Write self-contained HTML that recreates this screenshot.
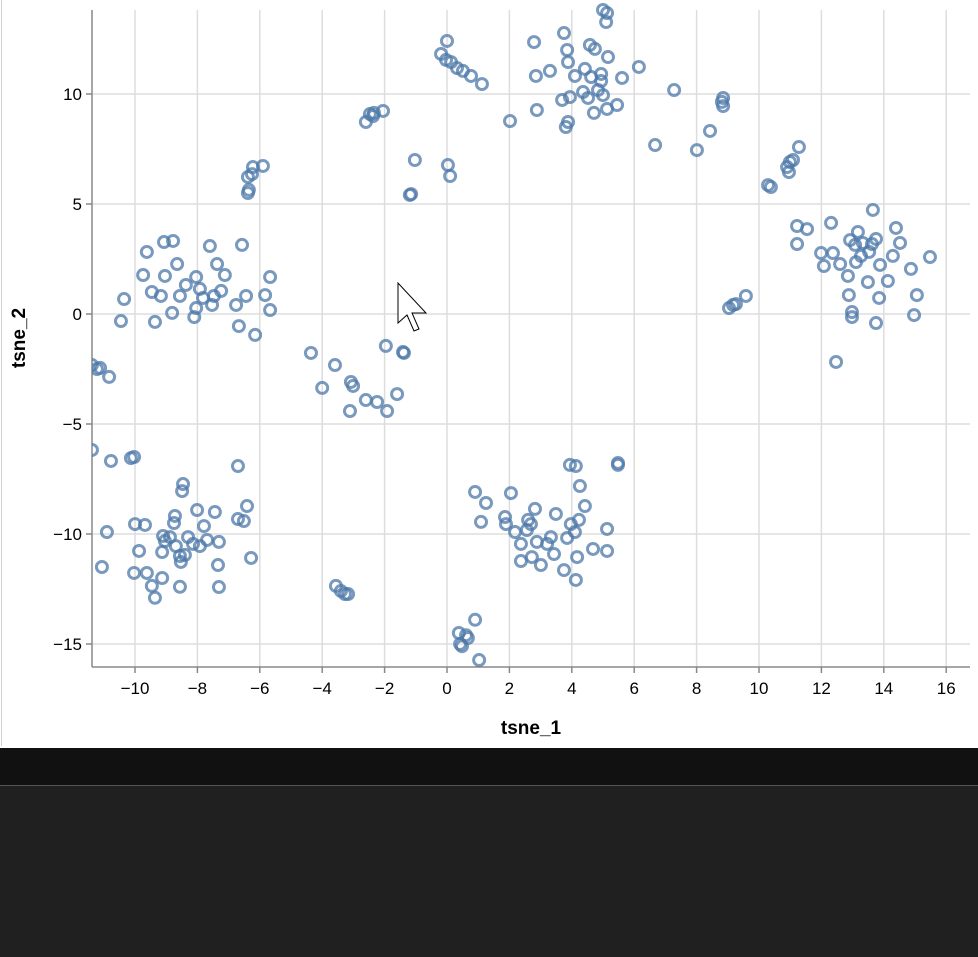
<!DOCTYPE html>
<html><head><meta charset="utf-8"><style>
html,body{margin:0;padding:0;background:#fff;}
body{width:978px;height:956px;overflow:hidden;position:relative;font-family:"Liberation Sans",sans-serif;}
#bar1{position:absolute;left:0;top:748px;width:978px;height:37px;background:#111;}
#bar2{position:absolute;left:0;top:785px;width:978px;height:171px;background:#202020;border-top:1px solid #555;}
#edge{position:absolute;left:1px;top:0;width:1px;height:746px;background:#d0d0d0;}
</style></head><body>
<div id="edge"></div>
<svg id="chart" width="978" height="748" style="position:absolute;left:0;top:0"></svg>
<div id="bar1"></div>
<div id="bar2"></div>
<script>
const xs=[-9.62,-9.07,-8.78,-8.65,-9.04,-9.74,-9.46,-9.17,-9.36,-8.81,-8.56,-8.37,-8.04,-7.92,-7.82,-8.04,-8.1,-7.6,-7.37,-7.12,-7.47,-7.24,-7.53,-6.76,-6.44,-6.57,-6.67,-6.15,-5.83,-5.67,-5.67,-10.35,-10.45,
-6.38,-6.38,-6.22,-5.9,-6.25,-6.35,
-11.38,-11.22,-11.12,-10.83,-11.38,-10.77,-10.13,-10.03,
-10.9,-10.0,-9.68,-11.06,-9.87,-10.03,-9.62,-9.46,-9.36,-9.13,-9.13,-9.1,-9.04,-8.72,-8.75,-8.69,-8.56,-8.53,-8.56,-8.46,-8.49,-8.3,-8.4,-8.01,-7.92,-7.79,-7.69,-7.44,-7.31,-7.34,-7.31,-6.7,-6.7,-6.51,-6.41,-6.28,-8.14,-8.88,
-4.36,-3.59,-4.0,-3.08,-3.01,-3.11,-2.6,-2.24,-1.92,-1.6,-1.96,-1.41,-1.38,
-3.56,-3.4,-3.27,-3.17,
-2.6,-2.47,-2.34,-2.05,-2.37,
-1.03,-1.19,-1.15,0.03,0.1,
-0.19,0,-0.03,0.13,0.32,0.51,0.77,1.12,
2.02,2.79,2.85,2.88,3.3,3.69,3.75,3.85,3.88,3.94,3.81,3.88,4.1,4.36,4.42,4.52,4.58,4.62,4.74,4.71,4.84,4.94,4.94,5.0,5.1,5.13,5.0,5.16,5.13,5.45,5.61,6.15,6.67,7.28,8.01,8.43,8.81,8.85,8.85,
10.29,10.38,10.9,10.99,11.09,10.96,11.28,
9.04,9.17,9.26,9.58,
11.22,11.54,11.22,11.99,12.08,12.31,12.37,12.6,12.47,12.92,12.85,12.88,12.98,12.98,13.08,13.11,13.17,13.27,13.33,13.49,13.53,13.65,13.62,13.75,13.75,13.85,13.88,14.13,14.29,14.39,14.52,14.87,15.06,14.97,15.48,
0.9,1.25,1.09,1.86,2.05,1.89,2.18,2.37,2.37,2.56,2.6,2.69,2.82,2.72,2.88,3.01,3.21,3.33,3.43,3.49,3.75,3.85,3.97,3.94,4.13,4.26,4.23,4.17,4.13,4.42,4.68,5.13,5.13,5.48,5.48,4.1,
0.38,0.42,0.48,0.61,0.9,1.03,0.67];
const ys=[2.82,3.27,3.32,2.27,1.73,1.77,1.0,0.82,-0.36,0.05,0.82,1.32,1.68,1.14,0.73,0.27,-0.14,3.09,2.27,1.77,0.82,1.05,0.41,0.41,0.82,3.14,-0.55,-0.95,0.86,1.68,0.18,0.68,-0.32,
5.5,6.23,6.68,6.73,6.36,5.64,
-2.32,-2.5,-2.45,-2.86,-6.18,-6.68,-6.55,-6.5,
-9.91,-9.55,-9.59,-11.5,-10.77,-11.77,-11.77,-12.36,-12.9,-12.0,-10.82,-10.09,-10.32,-9.18,-9.5,-10.55,-11.0,-11.27,-12.4,-7.73,-8.05,-10.14,-10.95,-8.91,-10.55,-9.64,-10.27,-9.0,-10.36,-11.41,-12.41,-6.91,-9.32,-9.41,-8.73,-11.09,-10.45,-10.14,
-1.77,-2.32,-3.36,-3.09,-3.27,-4.41,-3.91,-4.0,-4.41,-3.64,-1.45,-1.73,-1.77,
-12.36,-12.59,-12.73,-12.73,
8.73,9.09,9.14,9.23,9.0,
7.0,5.41,5.45,6.77,6.27,
11.82,12.41,11.55,11.45,11.18,11.05,10.82,10.45,
8.77,12.36,10.82,9.27,11.05,9.73,12.77,12.0,11.45,9.86,8.5,8.73,10.82,10.09,11.14,9.82,12.23,10.77,12.05,9.14,10.18,10.91,10.59,9.95,13.27,13.68,13.82,11.68,9.32,9.5,10.73,11.23,7.68,10.18,7.45,8.32,9.64,9.45,9.82,
5.86,5.77,6.68,6.91,7.0,6.45,7.59,
0.27,0.41,0.45,0.82,
4.0,3.86,3.18,2.77,2.18,4.14,2.77,2.27,-2.18,3.36,1.73,0.86,0.09,-0.14,3.14,2.36,3.73,2.64,3.23,1.45,2.82,4.73,3.18,3.41,-0.41,0.73,2.23,1.5,2.64,3.91,3.23,2.05,0.86,-0.05,2.59,
-8.09,-8.59,-9.45,-9.23,-8.14,-9.55,-9.91,-10.45,-11.23,-9.82,-9.36,-9.55,-8.86,-11.05,-10.36,-11.41,-10.45,-10.14,-10.91,-9.09,-11.64,-10.18,-9.55,-6.86,-6.91,-7.82,-9.36,-11.05,-12.09,-8.73,-10.68,-9.77,-10.77,-6.77,-6.86,-9.91,
-14.5,-15.0,-15.1,-14.6,-13.9,-15.73,-14.73];
const xTicks=[-10,-8,-6,-4,-2,0,2,4,6,8,10,12,14,16];
const yTicks=[-15,-10,-5,0,5,10];
const xTitle="tsne_1", yTitle="tsne_2";

const NS="http://www.w3.org/2000/svg";
const svg=document.getElementById('chart');
const L=92,R=970,T=10,B=667;
const X=v=>447+v*31.2;
const Y=v=>314-v*22;
function mk(tag,attrs,parent){const e=document.createElementNS(NS,tag);for(const k in attrs)e.setAttribute(k,attrs[k]);(parent||svg).appendChild(e);return e;}
const grid=mk('g',{});


xTicks.forEach(t=>{const l=mk('line',{x1:X(t),x2:X(t),y1:T,y2:B,stroke:'#ddd','stroke-width':1.5},grid);

});
yTicks.forEach(t=>{const l=mk('line',{x1:L,x2:R,y1:Y(t),y2:Y(t),stroke:'#ddd','stroke-width':1.5},grid);

});
const ax=mk('g',{});


mk('line',{x1:L,x2:R,y1:B,y2:B,stroke:'#888','stroke-width':1.5},ax);
mk('line',{x1:L,x2:L,y1:T,y2:B,stroke:'#888','stroke-width':1.5},ax);
xTicks.forEach(t=>{mk('line',{x1:X(t),x2:X(t),y1:B,y2:B+6,stroke:'#888','stroke-width':1.5},ax);
const tx=mk('text',{x:X(t),y:B+27,'text-anchor':'middle','font-size':17,fill:'#000'},ax);tx.textContent=(t<0?'\u2212'+(-t):t);

});
yTicks.forEach(t=>{mk('line',{x1:L-6,x2:L,y1:Y(t),y2:Y(t),stroke:'#888','stroke-width':1.5},ax);
const tx=mk('text',{x:L-10,y:Y(t)+6,'text-anchor':'end','font-size':17,fill:'#000'},ax);tx.textContent=(t<0?'\u2212'+(-t):t);

});
const xt=mk('text',{x:531,y:734,'text-anchor':'middle','font-size':19,'font-weight':'bold'});xt.textContent=xTitle;


const yt=mk('text',{x:0,y:0,'text-anchor':'middle','font-size':19,'font-weight':'bold',transform:'translate(25,338) rotate(-90)'});yt.textContent=yTitle;


const clip=mk('clipPath',{id:'cp'});mk('rect',{x:L,y:0,width:R-L+10,height:B},clip);
const pts=mk('g',{'clip-path':'url(#cp)'});


xs.forEach((x,i)=>{const c=mk('circle',{cx:X(x),cy:Y(ys[i]),r:5.5,fill:'none',stroke:'#4c78a8','stroke-width':3,'stroke-opacity':0.75},pts);

});
const cur=mk('path',{d:'M398,283 L398,323 L407,315 L414,331 L419,329 L412,313 L426,313 Z',fill:'#fff',stroke:'#000','stroke-width':1});


</script>
</body></html>
